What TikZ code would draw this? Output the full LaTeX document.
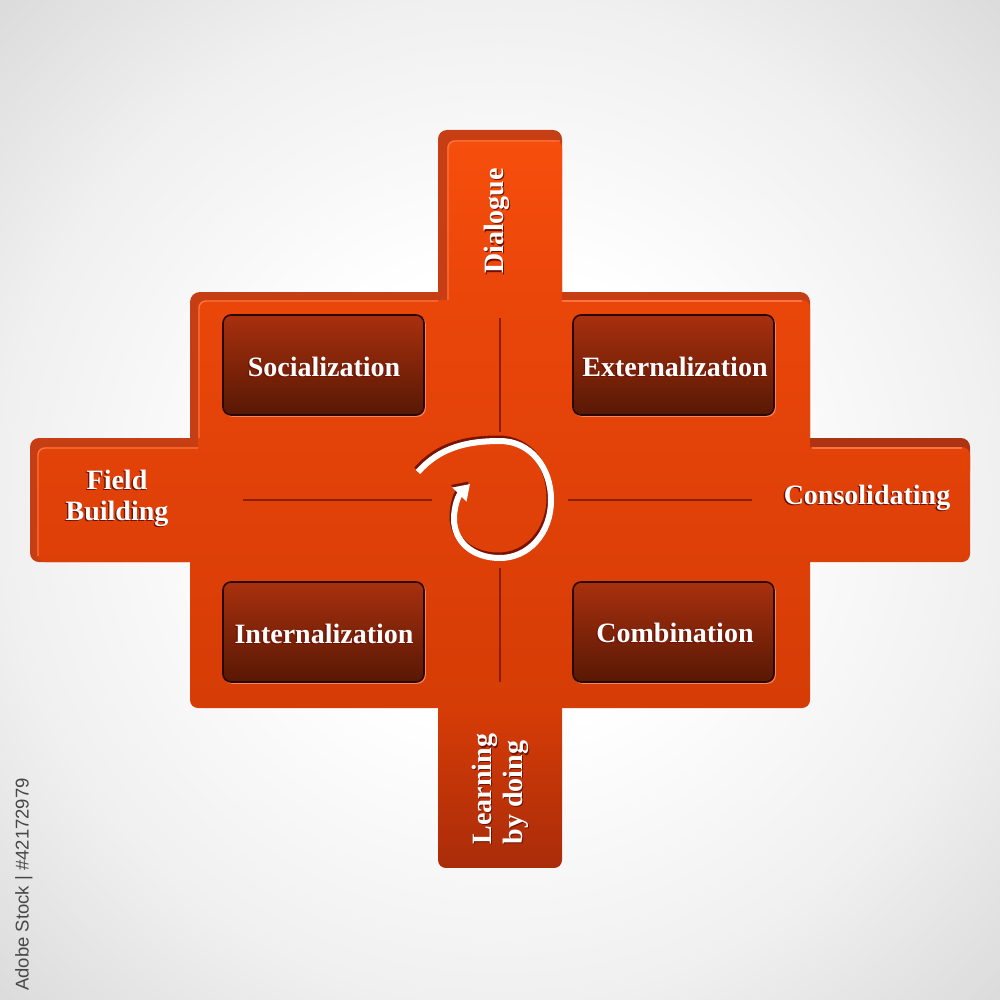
\documentclass[tikz,border=0pt]{standalone}
\usepackage{fontspec}
\setmainfont{Liberation Serif}
\newfontfamily\sidefont{Liberation Sans}
\usetikzlibrary{arrows.meta,calc}
\definecolor{bgedge}{RGB}{219,219,219}
\definecolor{bgmid}{RGB}{240,240,240}
\definecolor{lipc}{RGB}{198,62,20}
\definecolor{liprt}{RGB}{172,52,18}
\definecolor{topA}{RGB}{246,78,12}
\definecolor{sqTop}{RGB}{234,70,10}
\definecolor{sqBot}{RGB}{214,60,6}
\definecolor{botB}{RGB}{170,44,10}
\definecolor{hlc}{RGB}{252,114,64}
\definecolor{boxtop}{RGB}{168,48,14}
\definecolor{boxbot}{RGB}{88,24,4}
\definecolor{boxline}{RGB}{40,8,0}
\definecolor{boxhl}{RGB}{246,132,92}
\definecolor{txtsh}{RGB}{110,16,4}
\definecolor{crossl}{RGB}{140,30,4}
\definecolor{arrsh}{RGB}{120,18,2}
\pgfdeclareradialshading{bgrad}{\pgfpoint{0pt}{0pt}}{color(0pt)=(white); color(230pt)=(white); color(500pt)=(bgmid); color(710pt)=(bgedge)}
\pgfdeclareverticalshading{crossv}{1000pt}{color(0pt)=(botB); color(160pt)=(sqBot); color(568pt)=(sqTop); color(728pt)=(topA); color(740pt)=(topA)}
\tikzset{
  hl/.style={draw=hlc, line width=1.4pt},
  dbox/.style={rounded corners=8pt, top color=boxtop, bottom color=boxbot, draw=boxline, line width=1.6pt, minimum width=201pt, minimum height=100pt, inner sep=0pt},
  dglow/.style={rounded corners=8pt, draw=boxhl, line width=1.2pt, minimum width=201pt, minimum height=100pt, inner sep=0pt},
  lbtext/.style={font=\fontsize{28}{31}\selectfont\bfseries, inner sep=0pt, align=center},
  lbw/.style={lbtext, text=white},
  lbs/.style={lbtext, text=txtsh},
  xline/.style={draw=crossl, line width=1.1pt},
  spir/.style={line width=6pt, -{Triangle[length=15pt,width=19pt]}},
}
\newcommand\mylbl[5]{%
  \node[lbs,#4] (#1s) at ($(#2)+(#3)$) {#5};
  \node[lbw,#4] (#1) at (#2) {#5};}
\begin{document}
\begin{tikzpicture}[x=1pt,y=-1pt]
\useasboundingbox (0,0) rectangle (1000,1000);
\begin{scope}
\clip (0,0) rectangle (1000,1000);
\node[inner sep=0pt] (bgn) at (500,500) {\pgfuseshading{bgrad}};
\end{scope}
% lips
\fill[lipc, rounded corners=10pt] (190,292) rectangle (810,460);
\fill[lipc, rounded corners=9pt] (438,130) rectangle (562,320);
\fill[lipc, rounded corners=9pt] (30,438) rectangle (220,562);
\fill[liprt, rounded corners=9pt] (790,438) rectangle (970,480);
% cross face (one shading)
\begin{scope}
\clip[rounded corners=8pt] (447,140) rectangle (562,320)
  (198,300) rectangle (810,708)
  (190,540) rectangle (810,708)
  (37,447) rectangle (220,562)
  (790,447) rectangle (970,562)
  (438,690) rectangle (562,868);
\node[inner sep=0pt, anchor=south] (crossfill) at (500,868) {\pgfuseshading{crossv}};
\end{scope}
% highlights
\draw[hl, rounded corners=7pt] (448,300) -- (448,141) -- (560,141);
\draw[hl, rounded corners=7pt] (199,438) -- (199,301) -- (438,301);
\draw[hl] (562,301) -- (802,301);
\draw[hl, rounded corners=7pt] (198,448) -- (38,448) -- (38,556);
\draw[hl] (812,448) -- (962,448);
% cross lines
\draw[xline] (500,318) -- (500,432);
\draw[xline] (500,568) -- (500,682);
\draw[xline] (243,500) -- (432,500);
\draw[xline] (568,500) -- (752,500);
% boxes
\node[dglow] (gsoc) at (324.7,366.2) {};
\node[dbox] (bsoc) at (323.5,365) {};
\node[dglow] (gext) at (674.7,366.2) {};
\node[dbox] (bext) at (673.5,365) {};
\node[dglow] (gint) at (324.7,633.2) {};
\node[dbox] (bint) at (323.5,632) {};
\node[dglow] (gcom) at (674.7,633.2) {};
\node[dbox] (bcom) at (673.5,632) {};
% labels
\mylbl{soc}{324,367}{-1.3,1.3}{}{Socialization}
\mylbl{ext}{675,367}{-1.3,1.3}{}{Externalization}
\mylbl{int}{324,634}{-1.3,1.3}{}{Internalization}
\mylbl{com}{675,633}{-1.3,1.3}{}{Combination}
\mylbl{fb}{117,498}{-1.3,1.3}{}{Field\\Building}
\mylbl{con}{867,498}{-1.3,1.3}{}{Consolidating}
\mylbl{dia}{497,221}{1.3,1.3}{rotate=90}{Dialogue}
\mylbl{lbd}{500,789}{1.3,1.3}{rotate=90,align=left}{Learning\\by doing}
% spiral arrow
\draw[spir, draw=arrsh, shift={(-1.5,-2.5)}] (418,472) .. controls (440,447) and (468,441) .. (500,441) .. controls (530,441) and (551,467) .. (551,500) .. controls (551,534) and (528,558) .. (500,558) .. controls (472,558) and (454,541) .. (454,519) .. controls (454,505) and (459,495) .. (470,484);
\draw[spir, draw=white] (418,472) .. controls (440,447) and (468,441) .. (500,441) .. controls (530,441) and (551,467) .. (551,500) .. controls (551,534) and (528,558) .. (500,558) .. controls (472,558) and (454,541) .. (454,519) .. controls (454,505) and (459,495) .. (470,484);
% side id text
\node[font=\sidefont\fontsize{18.5}{22}\selectfont, text=black!72, rotate=90, anchor=base east, inner sep=0pt] (sid) at (28.5,778) {Adobe Stock | \#42172979};
\end{tikzpicture}
\end{document}
